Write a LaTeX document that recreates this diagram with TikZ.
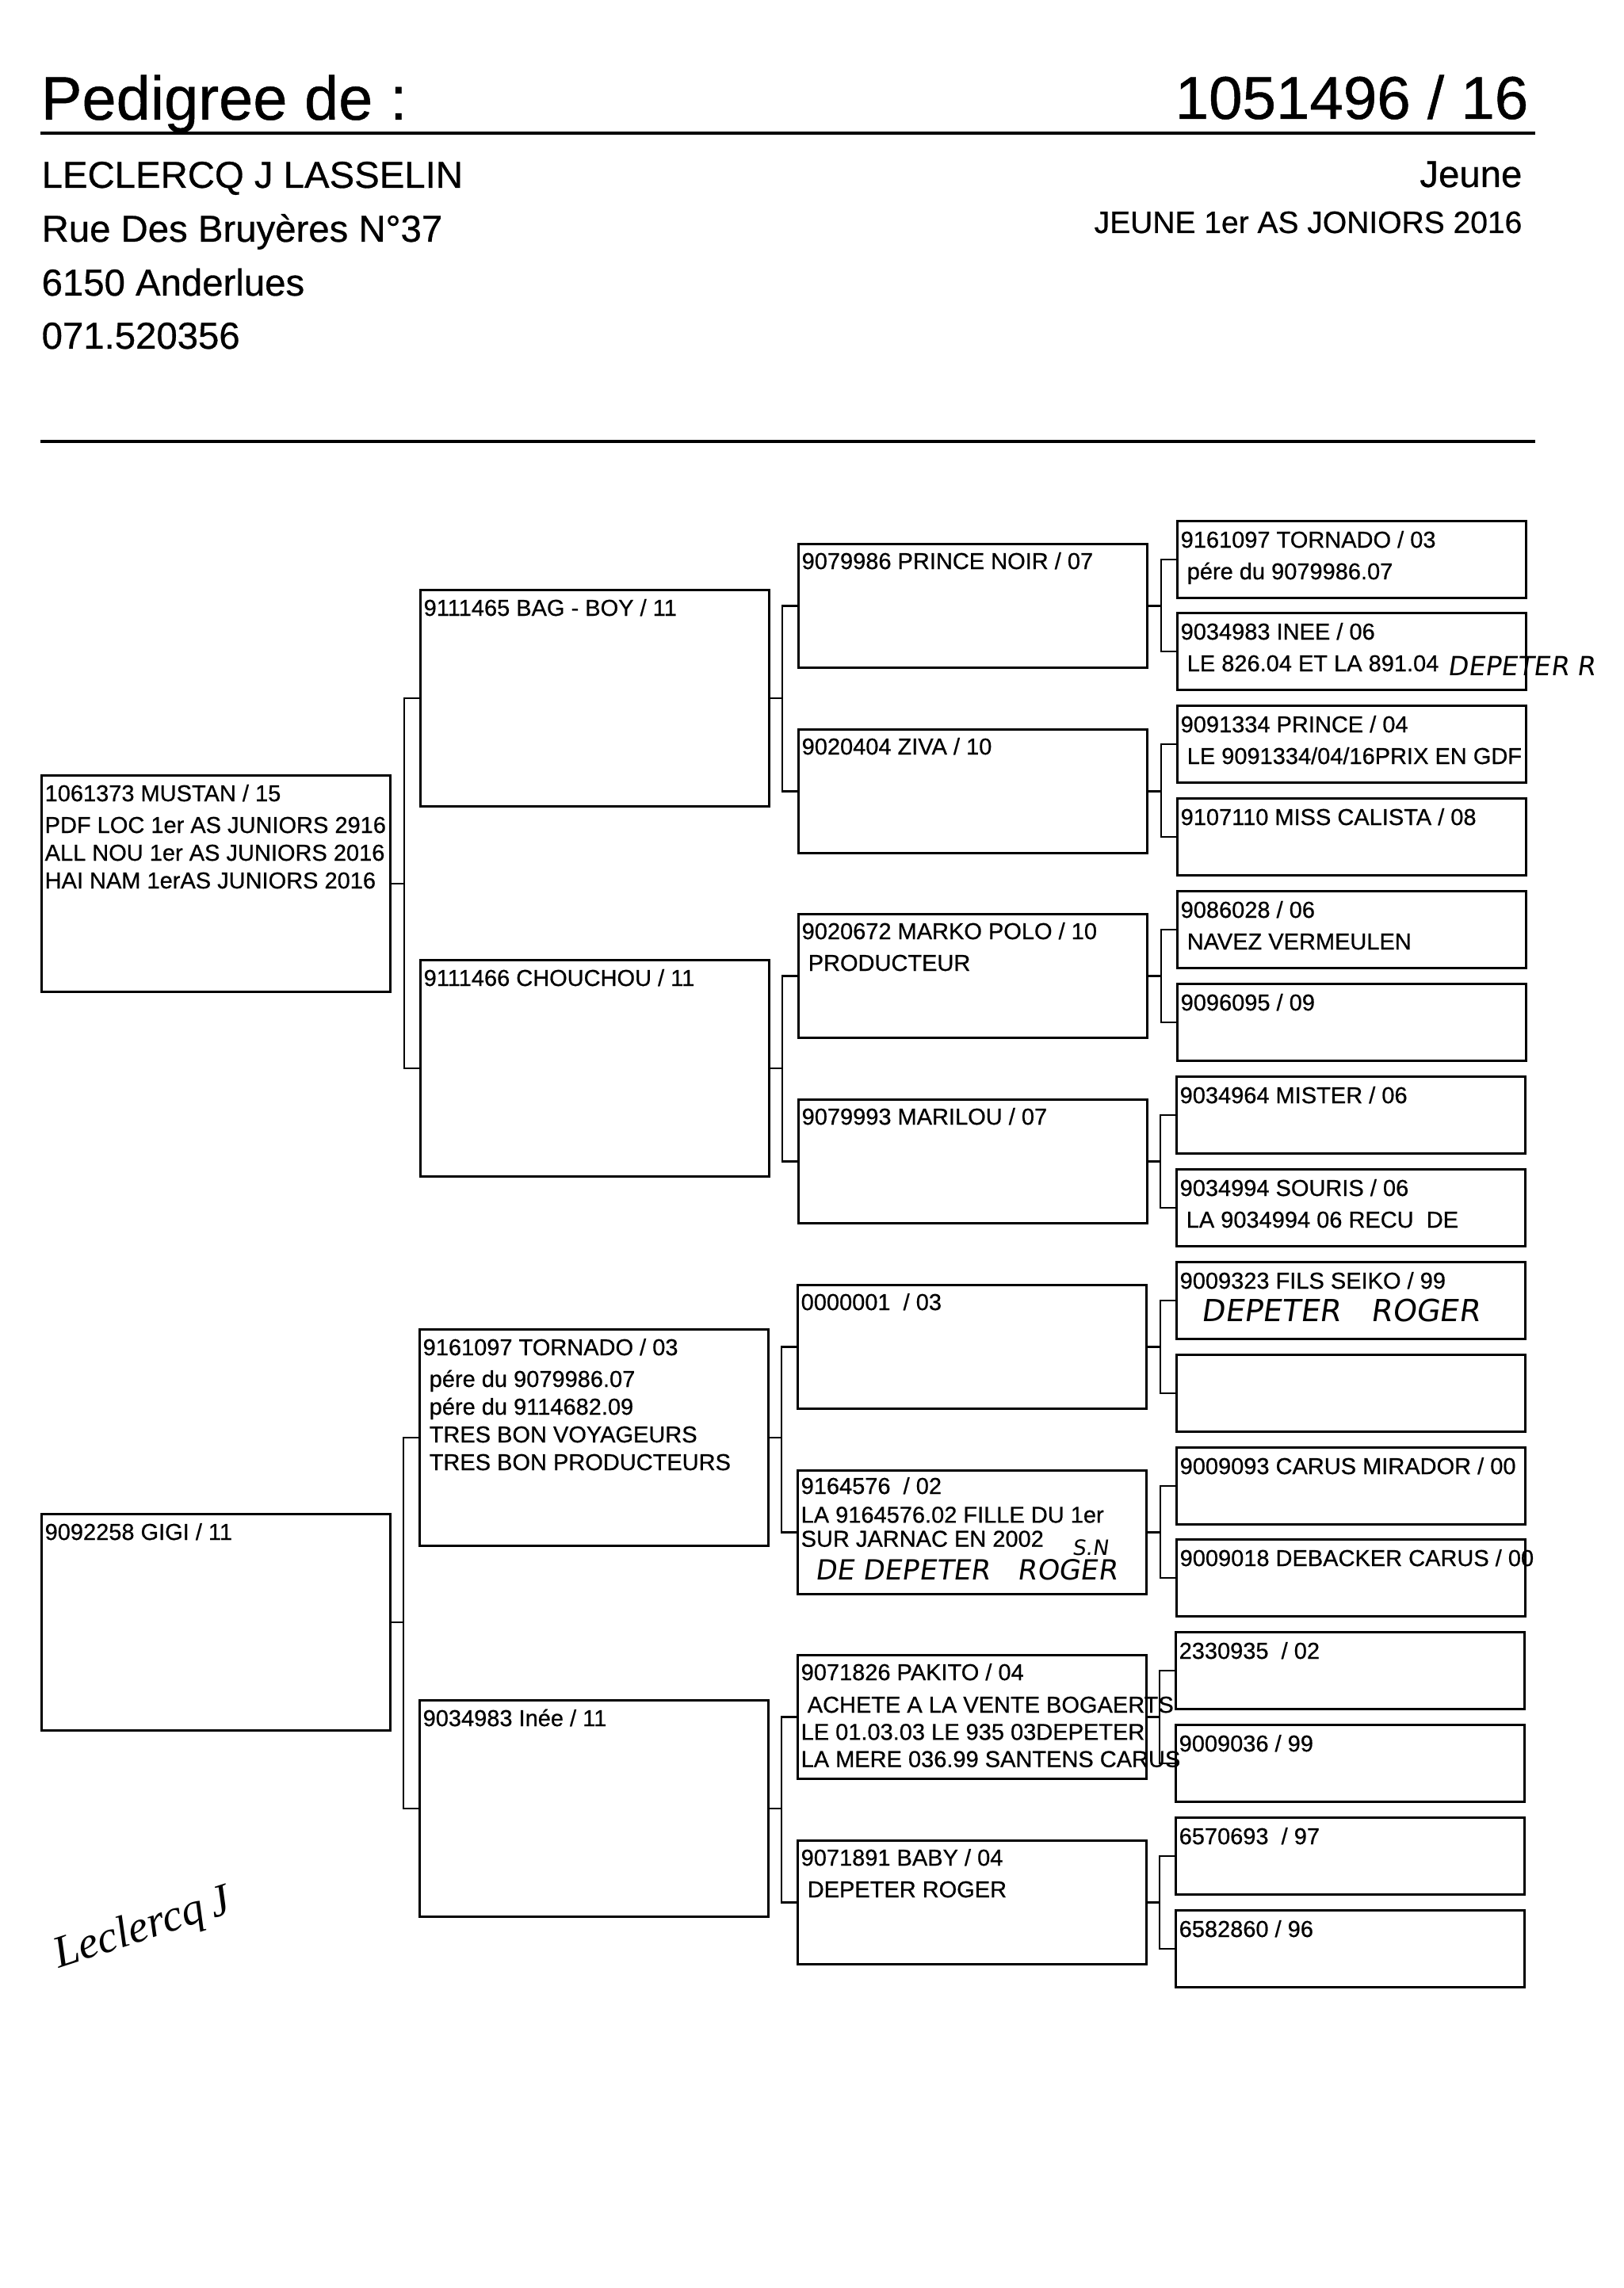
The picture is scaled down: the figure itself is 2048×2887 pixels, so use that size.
\documentclass[tikz,border=0pt]{standalone}
\usepackage{fontspec}
\setmainfont{Liberation Sans}[FakeBold=0.6]
\newfontfamily\handfont{DejaVu Sans}[FakeSlant=0.15]
\newfontfamily\signfont{Liberation Serif}
\usetikzlibrary{calc}
\newcommand\ml[1]{\begin{tabular}[t]{@{}l@{}}#1\end{tabular}}
\newcommand\ind{\hspace*{0.278em}}
\tikzset{
  box/.style={draw, line width=0.95pt, rectangle, inner sep=0pt, anchor=north west, minimum width=132pt},
  big/.style={box, minimum height=81.9pt},
  mid/.style={box, minimum height=46.8pt},
  small/.style={box, minimum height=29.1pt},
  txt/.style={anchor=base west, inner sep=0pt, font=\fontsize{8.7pt}{10.5pt}\selectfont},
  link/.style={line width=0.75pt},
  hw/.style={anchor=base west, inner sep=0pt},
  head/.style={inner sep=0pt, font=\fontsize{14.2pt}{17pt}\selectfont},
  rule/.style={line width=1pt}
}
\begin{document}
\begin{tikzpicture}[x=0.3pt,y=-0.3pt]
\useasboundingbox (0,0) rectangle (2048,2887);
\fill[white] (0,0) rectangle (2048,2887);

% ---------- header ----------
\node[inner sep=0pt, anchor=base west, font=\fontsize{23.3pt}{26pt}\selectfont] (title) at (51,151) {Pedigree de :};
\node[inner sep=0pt, anchor=base east, font=\fontsize{22.9pt}{26pt}\selectfont] (ring) at (1929,150) {1051496 / 16};
\coordinate (r1a) at (51,168);
\coordinate (r1b) at (1937,168);
\draw[rule] (r1a) -- (r1b);
\node[head, anchor=base west] (own1) at (52,237) {LECLERCQ J LASSELIN};
\node[head, anchor=base west] (own2) at (52,305) {Rue Des Bruyères N°37};
\node[head, anchor=base west] (own3) at (52,373) {6150 Anderlues};
\node[head, anchor=base west] (own4) at (52,440) {071.520356};
\node[head, anchor=base east] (cat) at (1921,236) {Jeune};
\node[inner sep=0pt, anchor=base east, font=\fontsize{11.7pt}{14pt}\selectfont] (prize) at (1921,294) {JEUNE 1er AS JONIORS 2016};
\coordinate (r2a) at (51,557);
\coordinate (r2b) at (1937,557);
\draw[rule] (r2a) -- (r2b);

% ---------- generation 1 ----------
\node[big] (a1) at (51,977) {};
\node[big] (a2) at (51,1909) {};
% ---------- generation 2 ----------
\node[big] (b1) at (529,743) {};
\node[big] (b2) at (529,1210) {};
\node[big] (b3) at (528,1676) {};
\node[big] (b4) at (528,2144) {};
% ---------- generation 3 ----------
\node[mid] (c1) at (1006,685) {};
\node[mid] (c2) at (1006,919) {};
\node[mid] (c3) at (1006,1152) {};
\node[mid] (c4) at (1006,1386) {};
\node[mid] (c5) at (1005,1620) {};
\node[mid] (c6) at (1005,1854) {};
\node[mid] (c7) at (1005,2087) {};
\node[mid] (c8) at (1005,2321) {};
% ---------- generation 4 ----------
\node[small] (d1) at (1484,656) {};
\node[small] (d2) at (1484,772) {};
\node[small] (d3) at (1484,889) {};
\node[small] (d4) at (1484,1006) {};
\node[small] (d5) at (1484,1123) {};
\node[small] (d6) at (1484,1240) {};
\node[small] (d7) at (1483,1357) {};
\node[small] (d8) at (1483,1474) {};
\node[small] (d9) at (1483,1591) {};
\node[small] (d10) at (1483,1708) {};
\node[small] (d11) at (1483,1825) {};
\node[small] (d12) at (1483,1941) {};
\node[small] (d13) at (1482,2058) {};
\node[small] (d14) at (1482,2175) {};
\node[small] (d15) at (1482,2292) {};
\node[small] (d16) at (1482,2409) {};

% ---------- connectors ----------
\foreach \p/\u/\v in {a1/b1/b2, a2/b3/b4,
  b1/c1/c2, b2/c3/c4, b3/c5/c6, b4/c7/c8,
  c1/d1/d2, c2/d3/d4, c3/d5/d6, c4/d7/d8,
  c5/d9/d10, c6/d11/d12, c7/d13/d14, c8/d15/d16}{
  \draw[link] (\u.west) -- ++(-19,0) coordinate (k) |- (\v.west);
  \draw[link] (\p.east) -- (\p.east -| k);
}

% ---------- texts ----------
\node[txt] (a1t) at ($(a1.north west)+(5,34)$) {\ml{1061373 MUSTAN / 15\\[1.5pt]PDF LOC 1er AS JUNIORS 2916\\ALL NOU 1er AS JUNIORS 2016\\HAI NAM 1erAS JUNIORS 2016}};
\node[txt] (a2t) at ($(a2.north west)+(5,34)$) {9092258 GIGI / 11};

\node[txt] (b1t) at ($(b1.north west)+(5,34)$) {9111465 BAG - BOY / 11};
\node[txt] (b2t) at ($(b2.north west)+(5,34)$) {9111466 CHOUCHOU / 11};
\node[txt] (b3t) at ($(b3.north west)+(5,34)$) {\ml{9161097 TORNADO / 03\\[1.5pt]\ind pére du 9079986.07\\\ind pére du 9114682.09\\\ind TRES BON VOYAGEURS\\\ind TRES BON PRODUCTEURS}};
\node[txt] (b4t) at ($(b4.north west)+(5,34)$) {9034983 Inée / 11};

\node[txt] (c1t) at ($(c1.north west)+(5,33)$) {9079986 PRINCE NOIR / 07};
\node[txt] (c2t) at ($(c2.north west)+(5,33)$) {9020404 ZIVA / 10};
\node[txt] (c3t) at ($(c3.north west)+(5,33)$) {\ml{9020672 MARKO POLO / 10\\[1.5pt]\ind PRODUCTEUR}};
\node[txt] (c4t) at ($(c4.north west)+(5,33)$) {9079993 MARILOU / 07};
\node[txt] (c5t) at ($(c5.north west)+(5,33)$) {0000001 \ / 03};
\node[txt, font=\fontsize{8.7pt}{9.1pt}\selectfont] (c6t) at ($(c6.north west)+(5,31)$) {\ml{9164576 \ / 02\\[1.8pt]LA 9164576.02 FILLE DU 1er\\SUR JARNAC EN 2002}};
\node[txt, font=\fontsize{8.7pt}{10.3pt}\selectfont] (c7t) at ($(c7.north west)+(5,33)$) {\ml{9071826 PAKITO / 04\\[2pt]\ind ACHETE A LA VENTE BOGAERTS\\LE 01.03.03 LE 935 03DEPETER\\LA MERE 036.99 SANTENS CARUS}};
\node[txt] (c8t) at ($(c8.north west)+(5,33)$) {\ml{9071891 BABY / 04\\[1.5pt]\ind DEPETER ROGER}};

\node[txt] (d1t) at ($(d1.north west)+(5,35)$) {\ml{9161097 TORNADO / 03\\[1.5pt]\ind pére du 9079986.07}};
\node[txt] (d2t) at ($(d2.north west)+(5,35)$) {\ml{9034983 INEE / 06\\[1.5pt]\ind LE 826.04 ET LA 891.04}};
\node[txt] (d3t) at ($(d3.north west)+(5,35)$) {\ml{9091334 PRINCE / 04\\[1.5pt]\ind LE 9091334/04/16PRIX EN GDF}};
\node[txt] (d4t) at ($(d4.north west)+(5,35)$) {9107110 MISS CALISTA / 08};
\node[txt] (d5t) at ($(d5.north west)+(5,35)$) {\ml{9086028 / 06\\[1.5pt]\ind NAVEZ VERMEULEN}};
\node[txt] (d6t) at ($(d6.north west)+(5,35)$) {9096095 / 09};
\node[txt] (d7t) at ($(d7.north west)+(5,35)$) {9034964 MISTER / 06};
\node[txt] (d8t) at ($(d8.north west)+(5,35)$) {\ml{9034994 SOURIS / 06\\[1.5pt]\ind LA 9034994 06 RECU \ DE}};
\node[txt] (d9t) at ($(d9.north west)+(5,35)$) {9009323 FILS SEIKO / 99};
\node[txt] (d11t) at ($(d11.north west)+(5,35)$) {9009093 CARUS MIRADOR / 00};
\node[txt] (d12t) at ($(d12.north west)+(5,35)$) {9009018 DEBACKER CARUS / 00};
\node[txt] (d13t) at ($(d13.north west)+(5,35)$) {2330935 \ / 02};
\node[txt] (d14t) at ($(d14.north west)+(5,35)$) {9009036 / 99};
\node[txt] (d15t) at ($(d15.north west)+(5,35)$) {6570693 \ / 97};
\node[txt] (d16t) at ($(d16.north west)+(5,35)$) {6582860 / 96};

% ---------- handwritten notes ----------
\node[hw, font=\handfont\fontsize{10pt}{11pt}\selectfont] (h1) at (1826,852) {DEPETER R};
\node[hw, font=\handfont\fontsize{11.5pt}{13pt}\selectfont] (h2) at (1515,1667) {DEPETER\quad ROGER};
\node[hw, font=\handfont\fontsize{8pt}{10pt}\selectfont] (h3) at (1352,1962) {S.N};
\node[hw, font=\handfont\fontsize{10.5pt}{13pt}\selectfont] (h4) at (1028,1993) {DE DEPETER\quad ROGER};
\node[inner sep=0pt, rotate=18, font=\signfont\itshape\fontsize{17pt}{20pt}\selectfont] (sig) at (180,2435) {Leclercq\,J};
\end{tikzpicture}
\end{document}
